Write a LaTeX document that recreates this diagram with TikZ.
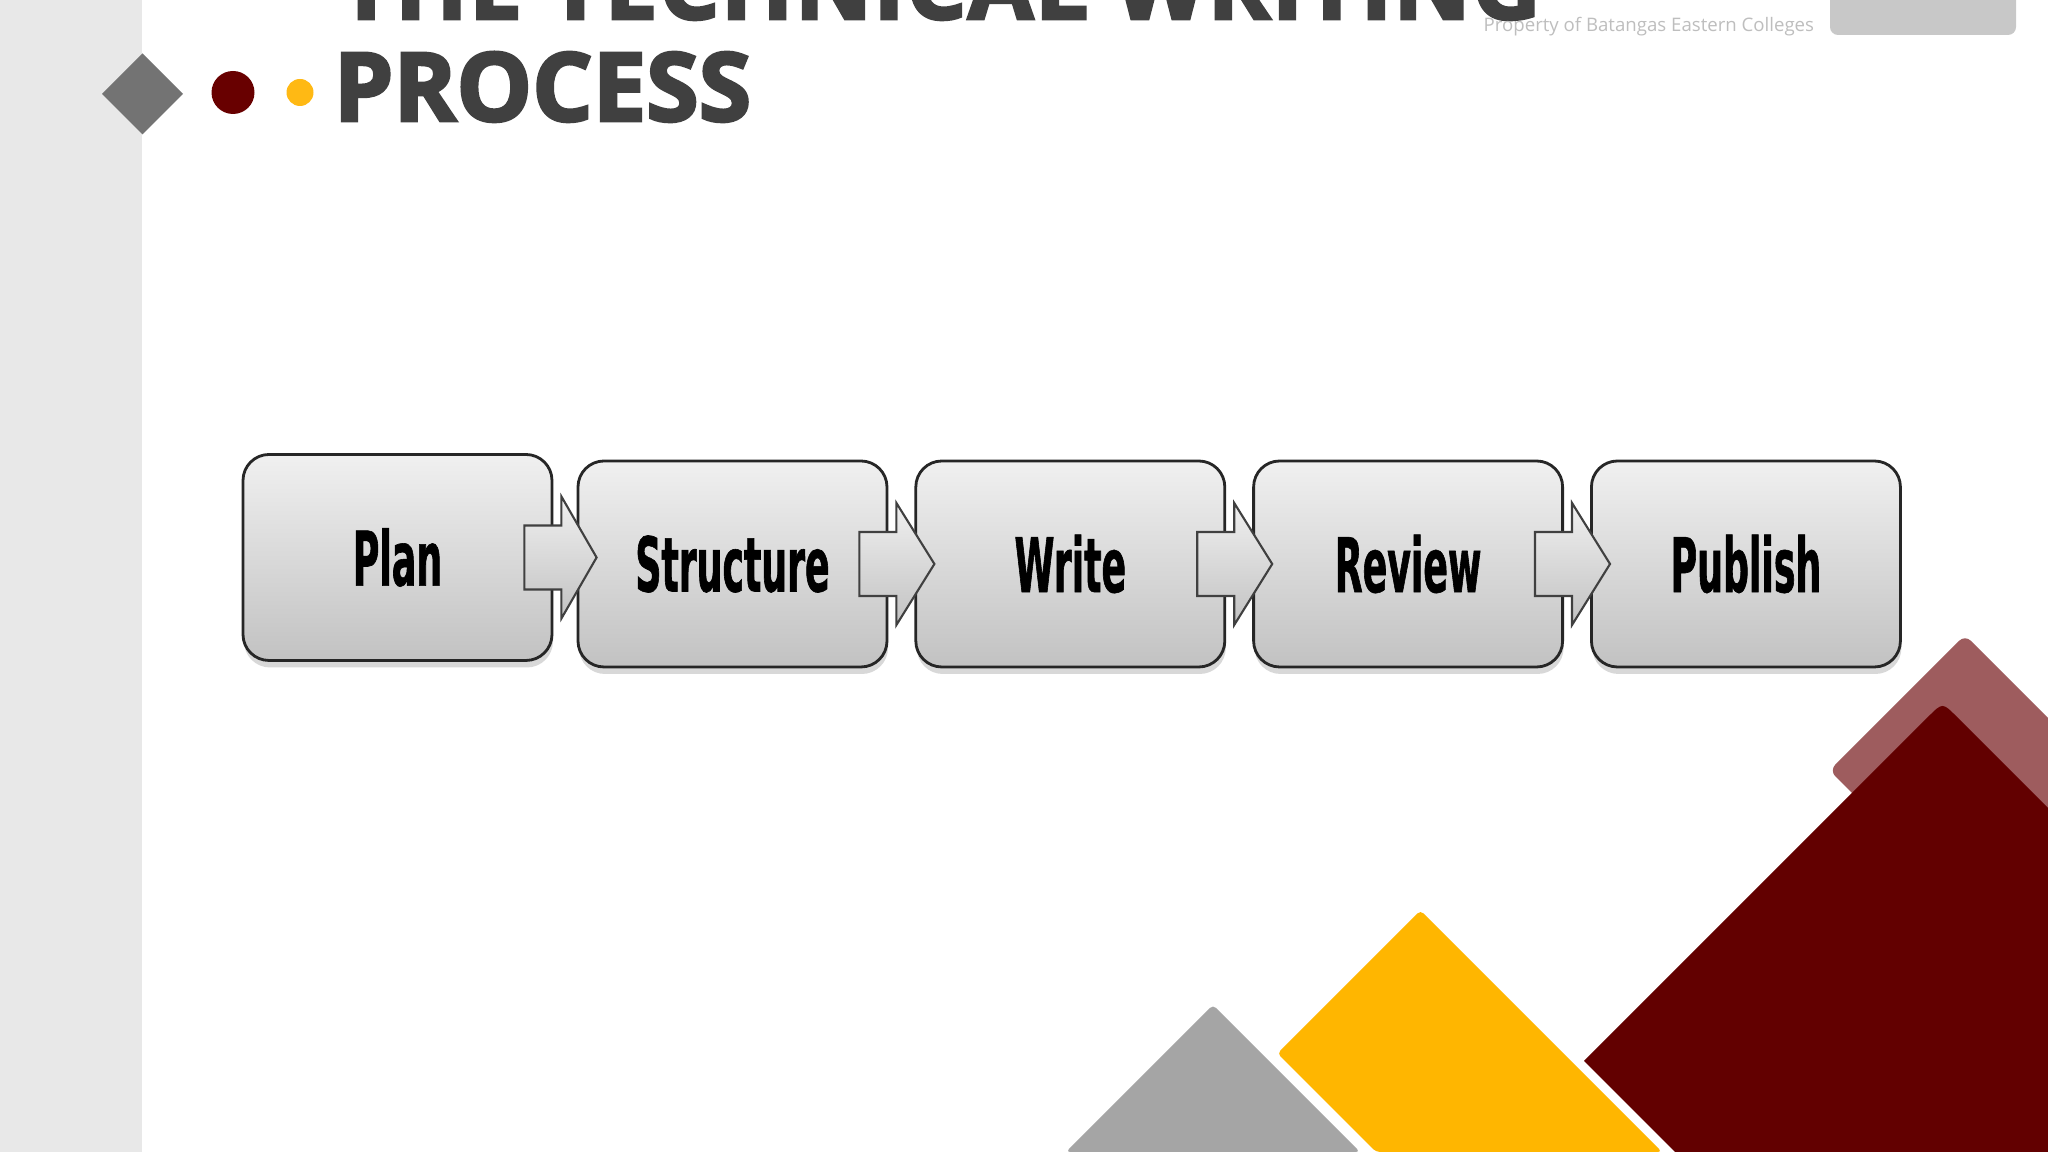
\documentclass[tikz,border=0pt]{standalone}
\usepackage{fontspec}
\usetikzlibrary{positioning,calc,shadows}
\newfontfamily\titlefont{Open Sans}[BoldFeatures={FakeBold=3}]
\newfontfamily\markfont{Open Sans}
\newfontfamily\boxfont{DejaVu Sans}[FakeStretch=0.48, BoldFeatures={FakeBold=0.8}]
\definecolor{bandgray}{RGB}{232,232,232}
\definecolor{titlegray}{RGB}{64,64,64}
\definecolor{diagray}{RGB}{115,115,115}
\definecolor{dotred}{RGB}{104,0,0}
\definecolor{dotyellow}{RGB}{255,185,20}
\definecolor{marktext}{RGB}{190,190,190}
\definecolor{tabgray}{RGB}{200,200,200}
\definecolor{boxtop}{RGB}{240,240,240}
\definecolor{boxbottom}{RGB}{194,194,194}
\definecolor{hillgray}{RGB}{165,165,165}
\definecolor{hillgold}{RGB}{255,182,0}
\definecolor{hillred}{RGB}{98,0,0}
\definecolor{hillrose}{RGB}{158,92,94}
\tikzset{
  stepbox/.style={draw=black!85, line width=0.8pt, rounded corners=0.26cm,
    top color=boxtop, bottom color=boxbottom, minimum width=3.09cm, minimum height=2.06cm,
    inner sep=0pt, font=\boxfont\bfseries\fontsize{21.5}{24}\selectfont,
    drop shadow={shadow xshift=0.01cm, shadow yshift=-0.07cm, opacity=0.3}},
  flowarrow/.style={draw=black!75, line width=0.6pt, top color=boxtop, bottom color=boxbottom}
}
\begin{document}
\begin{tikzpicture}
	\clip (0,0) rectangle (20.48,11.52);
	\fill[white] (0,0) rectangle (20.48,11.52);
	\fill[bandgray] (0,0) rectangle (1.42,11.52);
	\fill[diagray] (1.425,10.175) -- (1.83,10.58) -- (1.425,10.985) -- (1.02,10.58) -- cycle;
	\fill[dotred] (2.33,10.595) circle (0.215);
	\fill[dotyellow] (3.00,10.595) circle (0.135);
	\node[anchor=base west, inner sep=0pt, text=titlegray, font=\titlefont\bfseries\fontsize{27.1}{30}\selectfont\addfontfeature{LetterSpace=1.2}] (title1) at (3.38,11.33) {THE TECHNICAL WRITING};
	\node[anchor=base west, inner sep=0pt, text=titlegray, font=\titlefont\bfseries\fontsize{27.1}{30}\selectfont] (title2) at (3.33,10.31) {PROCESS};
	\node[anchor=base west, inner sep=0pt, text=marktext, font=\markfont\fontsize{5.3}{6}\selectfont] (mark) at (14.83,11.20) {Property of Batangas Eastern Colleges};
	\fill[tabgray, rounded corners=0.08cm] (18.30,11.17) rectangle (20.16,11.62);

	\fill[hillgray, rounded corners=0.04cm] (10.66,0) -- (12.13,1.47) -- (13.60,0) -- cycle;
	\fill[hillgold, rounded corners=0.04cm] (13.76,0) -- (12.775,0.985) -- (14.205,2.415) -- (16.62,0) -- cycle;
	\fill[hillrose, rounded corners=0.08cm] (18.295,3.815) -- (19.65,5.17) -- (20.6,4.22) -- (20.6,2.52) -- (19.00,3.11) -- cycle;
	\fill[hillred] (16.75,0) -- (15.84,0.91) -- (19.285,4.355) .. controls (19.425,4.495) .. (19.565,4.355)
		-- (20.6,3.32) -- (20.6,-0.1) -- cycle;

	\node[stepbox] (plan) at (3.975,5.945) {Plan};
	\node[stepbox] (struct) at (7.325,5.88) {Structure};
	\node[stepbox, right=0.26cm of struct] (write) {Write};
	\node[stepbox, right=0.26cm of write] (review) {Review};
	\node[stepbox, right=0.26cm of review] (publish) {Publish};

	\foreach \a/\b in {plan/struct, struct/write, write/review, review/publish}
		\draw[flowarrow] ($(\a.east)+(-0.29,0.32)$) -- ($(\a.east)+(0.08,0.32)$) -- ($(\a.east)+(0.08,0.61)$)
			-- ($(\b.west |- \a.east)+(0.2,0)$) -- ($(\a.east)+(0.08,-0.61)$) -- ($(\a.east)+(0.08,-0.32)$)
			-- ($(\a.east)+(-0.29,-0.32)$) -- cycle;
\end{tikzpicture}
\end{document}
